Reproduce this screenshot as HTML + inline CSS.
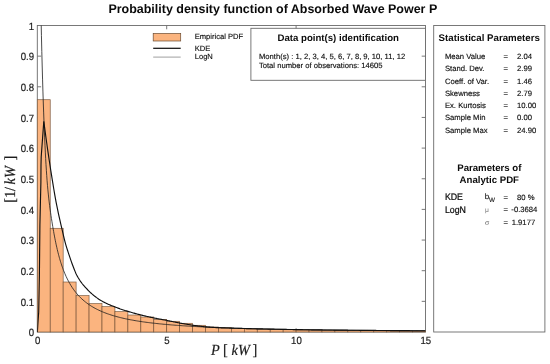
<!DOCTYPE html>
<html lang="en"><head><meta charset="utf-8"><title>Probability density function of Absorbed Wave Power P</title>
<style>html,body{margin:0;padding:0;background:#fff;overflow:hidden}svg text{white-space:pre}</style></head>
<body>
<svg width="550" height="364" viewBox="0 0 550 364" style="display:block" text-rendering="geometricPrecision" font-family='"Liberation Sans", Arial, Helvetica, sans-serif'>
<rect x="0" y="0" width="550" height="364" fill="#ffffff"/>
<g stroke="#6a6a6a" stroke-width="0.9" fill="none">
<line x1="37.3" y1="301.35" x2="41.099999999999994" y2="301.35"/>
<line x1="37.3" y1="270.70" x2="41.099999999999994" y2="270.70"/>
<line x1="37.3" y1="240.05" x2="41.099999999999994" y2="240.05"/>
<line x1="37.3" y1="209.40" x2="41.099999999999994" y2="209.40"/>
<line x1="37.3" y1="178.75" x2="41.099999999999994" y2="178.75"/>
<line x1="37.3" y1="148.10" x2="41.099999999999994" y2="148.10"/>
<line x1="37.3" y1="117.45" x2="41.099999999999994" y2="117.45"/>
<line x1="37.3" y1="86.80" x2="41.099999999999994" y2="86.80"/>
<line x1="37.3" y1="56.15" x2="41.099999999999994" y2="56.15"/>
<line x1="166.70" y1="25.5" x2="166.70" y2="29.3"/>
<line x1="166.70" y1="332.0" x2="166.70" y2="328.2"/>
<line x1="296.10" y1="25.5" x2="296.10" y2="29.3"/>
<line x1="296.10" y1="332.0" x2="296.10" y2="328.2"/>
</g>
<rect x="37.3" y="25.5" width="388.2" height="306.5" stroke="#6a6a6a" stroke-width="0.9" fill="none"/>
<g fill="#fbb47f" stroke="#6b4a30" stroke-width="0.7" stroke-opacity="0.85">
<rect x="37.30" y="99.70" width="12.94" height="232.30"/>
<rect x="50.24" y="228.30" width="12.94" height="103.70"/>
<rect x="63.18" y="282.00" width="12.94" height="50.00"/>
<rect x="76.12" y="295.60" width="12.94" height="36.40"/>
<rect x="89.06" y="303.60" width="12.94" height="28.40"/>
<rect x="102.00" y="306.60" width="12.94" height="25.40"/>
<rect x="114.94" y="311.60" width="12.94" height="20.40"/>
<rect x="127.88" y="315.00" width="12.94" height="17.00"/>
<rect x="140.82" y="317.00" width="12.94" height="15.00"/>
<rect x="153.76" y="319.40" width="12.94" height="12.60"/>
<rect x="166.70" y="321.30" width="12.94" height="10.70"/>
<rect x="179.64" y="323.30" width="12.94" height="8.70"/>
<rect x="192.58" y="325.30" width="12.94" height="6.70"/>
<rect x="205.52" y="327.00" width="12.94" height="5.00"/>
<rect x="218.46" y="327.70" width="12.94" height="4.30"/>
<rect x="231.40" y="328.53" width="12.94" height="3.47"/>
<rect x="244.34" y="328.90" width="12.94" height="3.10"/>
<rect x="257.28" y="329.21" width="12.94" height="2.79"/>
<rect x="270.22" y="329.49" width="12.94" height="2.51"/>
<rect x="283.16" y="329.73" width="12.94" height="2.27"/>
<rect x="296.10" y="329.93" width="12.94" height="2.07"/>
<rect x="309.04" y="330.12" width="12.94" height="1.88"/>
<rect x="321.98" y="330.28" width="12.94" height="1.72"/>
<rect x="334.92" y="330.43" width="12.94" height="1.57"/>
<rect x="347.86" y="330.56" width="12.94" height="1.44"/>
<rect x="360.80" y="330.67" width="12.94" height="1.33"/>
<rect x="373.74" y="330.78" width="12.94" height="1.22"/>
<rect x="386.68" y="330.87" width="12.94" height="1.13"/>
<rect x="399.62" y="330.96" width="12.94" height="1.04"/>
<rect x="412.56" y="331.04" width="12.94" height="0.96"/>
</g>
<defs><clipPath id="pc"><rect x="37.3" y="25.5" width="388.2" height="307.5"/></clipPath></defs>
<polyline clip-path="url(#pc)" points="39.88,-51.41 40.27,-25.47 40.66,-2.70 41.05,17.44 41.43,35.38 41.81,51.47 42.19,65.97 42.56,79.11 42.92,91.08 43.28,102.03 43.63,112.08 43.98,121.35 44.32,129.92 44.66,137.86 44.99,145.25 45.33,152.14 45.66,158.58 46.00,164.61 46.36,170.27 46.72,175.59 47.09,180.61 47.48,185.34 47.88,189.82 48.30,194.06 48.73,198.07 49.17,201.89 49.61,205.51 50.07,208.96 50.52,212.25 50.98,215.38 51.43,218.38 51.88,221.24 52.32,223.97 52.76,226.60 53.19,229.11 53.61,231.52 54.03,233.83 54.45,236.05 54.85,238.19 55.26,240.25 55.66,242.22 56.06,244.13 56.46,245.97 56.86,247.74 57.26,249.45 57.65,251.10 58.05,252.70 58.44,254.24 58.84,255.74 59.23,257.18 59.63,258.58 60.02,259.93 60.42,261.25 60.81,262.52 61.21,263.75 61.60,264.95 62.00,266.11 62.39,267.24 62.79,268.34 63.18,269.40 63.70,270.76 64.91,273.73 66.12,276.47 67.33,279.01 68.54,281.35 69.75,283.53 70.96,285.56 72.17,287.45 73.38,289.21 74.59,290.87 75.80,292.42 77.01,293.88 78.22,295.25 79.43,296.54 80.64,297.76 81.85,298.91 83.06,300.01 84.27,301.04 85.48,302.02 86.69,302.95 87.90,303.84 89.11,304.68 90.32,305.48 91.53,306.25 92.74,306.98 93.95,307.68 95.16,308.35 96.37,308.98 97.58,309.59 98.79,310.18 100.00,310.74 101.21,311.28 102.42,311.80 103.63,312.30 104.84,312.77 106.05,313.23 107.26,313.68 108.47,314.10 109.68,314.51 110.89,314.91 112.10,315.29 113.31,315.66 114.52,316.02 115.73,316.36 116.94,316.69 118.15,317.01 119.36,317.33 120.57,317.63 121.78,317.92 122.99,318.20 124.20,318.47 125.41,318.74 126.62,319.00 127.83,319.25 129.04,319.49 130.25,319.72 131.46,319.95 132.67,320.17 133.88,320.39 135.09,320.60 136.30,320.80 137.51,321.00 138.72,321.19 139.93,321.38 141.14,321.56 142.35,321.74 143.56,321.91 144.77,322.08 145.98,322.24 147.19,322.40 148.40,322.56 149.61,322.71 150.82,322.86 152.03,323.00 153.24,323.14 154.45,323.28 155.66,323.42 156.87,323.55 158.08,323.68 159.29,323.80 160.50,323.92 161.71,324.04 162.92,324.16 164.13,324.27 165.34,324.39 166.55,324.49 167.76,324.60 168.97,324.71 170.18,324.81 171.39,324.91 172.60,325.01 173.81,325.10 175.02,325.20 176.23,325.29 177.44,325.38 178.65,325.47 179.86,325.55 181.07,325.64 182.28,325.72 183.49,325.80 184.70,325.88 185.91,325.96 187.12,326.04 188.33,326.11 189.54,326.19 190.75,326.26 191.96,326.33 193.17,326.40 194.38,326.47 195.59,326.53 196.80,326.60 198.01,326.67 199.22,326.73 200.43,326.79 201.64,326.85 202.85,326.91 204.06,326.97 205.27,327.03 206.48,327.09 207.69,327.14 208.90,327.20 210.11,327.25 211.32,327.31 212.53,327.36 213.74,327.41 214.95,327.46 216.16,327.51 217.37,327.56 218.58,327.61 219.79,327.65 221.00,327.70 222.21,327.75 223.42,327.79 224.63,327.84 225.84,327.88 227.05,327.92 228.26,327.97 229.47,328.01 230.68,328.05 231.89,328.09 233.10,328.13 234.31,328.17 235.52,328.21 236.73,328.24 237.94,328.28 239.15,328.32 240.36,328.36 241.57,328.39 242.78,328.43 243.99,328.46 245.20,328.50 246.41,328.53 247.62,328.56 248.83,328.60 250.04,328.63 251.25,328.66 252.46,328.69 253.67,328.72 254.88,328.75 256.09,328.78 257.30,328.81 258.51,328.84 259.72,328.87 260.93,328.90 262.14,328.93 263.35,328.95 264.56,328.98 265.77,329.01 266.98,329.04 268.19,329.06 269.40,329.09 270.61,329.11 271.82,329.14 273.03,329.16 274.24,329.19 275.45,329.21 276.66,329.24 277.87,329.26 279.08,329.28 280.30,329.31 281.51,329.33 282.72,329.35 283.93,329.37 285.14,329.40 286.35,329.42 287.56,329.44 288.77,329.46 289.98,329.48 291.19,329.50 292.40,329.52 293.61,329.54 294.82,329.56 296.03,329.58 297.24,329.60 298.45,329.62 299.66,329.64 300.87,329.66 302.08,329.68 303.29,329.69 304.50,329.71 305.71,329.73 306.92,329.75 308.13,329.77 309.34,329.78 310.55,329.80 311.76,329.82 312.97,329.83 314.18,329.85 315.39,329.87 316.60,329.88 317.81,329.90 319.02,329.91 320.23,329.93 321.44,329.95 322.65,329.96 323.86,329.98 325.07,329.99 326.28,330.01 327.49,330.02 328.70,330.03 329.91,330.05 331.12,330.06 332.33,330.08 333.54,330.09 334.75,330.10 335.96,330.12 337.17,330.13 338.38,330.14 339.59,330.16 340.80,330.17 342.01,330.18 343.22,330.20 344.43,330.21 345.64,330.22 346.85,330.23 348.06,330.25 349.27,330.26 350.48,330.27 351.69,330.28 352.90,330.29 354.11,330.30 355.32,330.32 356.53,330.33 357.74,330.34 358.95,330.35 360.16,330.36 361.37,330.37 362.58,330.38 363.79,330.39 365.00,330.40 366.21,330.41 367.42,330.42 368.63,330.44 369.84,330.45 371.05,330.46 372.26,330.47 373.47,330.48 374.68,330.49 375.89,330.49 377.10,330.50 378.31,330.51 379.52,330.52 380.73,330.53 381.94,330.54 383.15,330.55 384.36,330.56 385.57,330.57 386.78,330.58 387.99,330.59 389.20,330.60 390.41,330.60 391.62,330.61 392.83,330.62 394.04,330.63 395.25,330.64 396.46,330.65 397.67,330.66 398.88,330.66 400.09,330.67 401.30,330.68 402.51,330.69 403.72,330.70 404.93,330.70 406.14,330.71 407.35,330.72 408.56,330.73 409.77,330.73 410.98,330.74 412.19,330.75 413.40,330.76 414.61,330.76 415.82,330.77 417.03,330.78 418.24,330.78 419.45,330.79 420.66,330.80 421.87,330.81 423.08,330.81 424.29,330.82 425.50,330.83" fill="none" stroke="#1c1c1c" stroke-width="0.8"/>
<polyline clip-path="url(#pc)" points="37.40,332.00 38.00,322.00 38.70,312.00 39.40,275.00 39.90,225.00 40.40,203.00 40.90,182.00 41.00,165.00 41.20,157.00 43.80,121.30 44.56,127.16 45.33,132.89 46.09,138.51 46.86,144.01 47.62,149.37 48.39,154.61 49.15,159.74 49.92,164.78 50.68,169.74 51.45,174.61 52.21,179.40 52.98,184.09 53.74,188.75 54.51,193.33 55.27,197.71 56.04,201.83 56.80,205.72 57.57,209.45 58.33,213.06 59.10,216.51 59.86,219.89 60.63,223.30 61.39,226.66 62.16,229.95 62.92,233.24 63.69,236.50 64.45,239.64 65.22,242.61 65.98,245.34 66.75,247.87 67.51,250.28 68.28,252.59 69.04,254.86 69.81,257.12 70.57,259.38 71.34,261.59 72.10,263.73 72.87,265.81 73.63,267.82 74.40,269.75 75.16,271.62 75.93,273.40 76.69,274.97 77.46,276.40 78.22,277.76 78.99,279.03 79.75,280.24 80.52,281.38 81.28,282.47 82.05,283.49 82.81,284.43 83.58,285.31 84.34,286.17 85.11,287.02 85.87,287.87 86.64,288.70 87.40,289.50 88.17,290.28 88.93,291.05 89.70,291.81 90.46,292.54 91.23,293.25 91.99,293.93 92.76,294.58 93.52,295.22 94.29,295.84 95.05,296.44 95.82,297.03 96.58,297.60 97.35,298.15 98.11,298.68 98.87,299.20 99.64,299.69 100.40,300.16 101.17,300.62 101.93,301.07 102.70,301.50 103.46,301.92 104.23,302.33 104.99,302.72 105.76,303.10 106.52,303.47 107.29,303.83 108.05,304.17 108.82,304.50 109.58,304.82 110.35,305.13 111.11,305.44 111.88,305.74 112.64,306.04 113.41,306.33 114.17,306.63 114.94,306.93 115.70,307.22 116.47,307.51 117.23,307.80 118.00,308.09 118.76,308.37 119.53,308.64 120.29,308.92 121.06,309.18 121.82,309.44 122.59,309.70 123.35,309.95 124.12,310.20 124.88,310.44 125.65,310.68 126.41,310.92 127.18,311.15 127.94,311.38 128.71,311.61 129.47,311.84 130.24,312.06 131.00,312.28 131.77,312.50 132.53,312.72 133.30,312.94 134.06,313.15 134.83,313.37 135.59,313.58 136.36,313.79 137.12,313.99 137.89,314.20 138.65,314.40 139.42,314.60 140.18,314.79 140.95,314.99 141.71,315.18 142.48,315.37 143.24,315.55 144.01,315.74 144.77,315.92 145.54,316.11 146.30,316.29 147.07,316.46 147.83,316.64 148.60,316.81 149.36,316.98 150.13,317.15 150.89,317.32 151.66,317.49 152.42,317.65 153.18,317.81 153.95,317.97 154.71,318.13 155.48,318.28 156.24,318.43 157.01,318.58 157.77,318.73 158.54,318.87 159.30,319.01 160.07,319.16 160.83,319.30 161.60,319.44 162.36,319.58 163.13,319.72 163.89,319.86 164.66,320.01 165.42,320.15 166.19,320.30 166.95,320.45 167.72,320.60 168.48,320.76 169.25,320.91 170.01,321.07 170.78,321.23 171.54,321.39 172.31,321.55 173.07,321.70 173.84,321.86 174.60,322.02 175.37,322.18 176.13,322.33 176.90,322.48 177.66,322.63 178.43,322.78 179.19,322.92 179.96,323.07 180.72,323.21 181.49,323.34 182.25,323.48 183.02,323.62 183.78,323.75 184.55,323.89 185.31,324.02 186.08,324.15 186.84,324.28 187.61,324.41 188.37,324.54 189.14,324.66 189.90,324.78 190.67,324.90 191.43,325.01 192.20,325.13 192.96,325.24 193.73,325.35 194.49,325.46 195.26,325.56 196.02,325.67 196.79,325.78 197.55,325.88 198.32,325.98 199.08,326.08 199.85,326.18 200.61,326.28 201.38,326.37 202.14,326.46 202.91,326.54 203.67,326.62 204.44,326.70 205.20,326.77 205.97,326.84 206.73,326.91 207.49,326.97 208.26,327.04 209.02,327.10 209.79,327.16 210.55,327.22 211.32,327.28 212.08,327.33 212.85,327.38 213.61,327.43 214.38,327.48 215.14,327.53 215.91,327.57 216.67,327.61 217.44,327.65 218.20,327.69 218.97,327.72 219.73,327.75 220.50,327.78 221.26,327.81 222.03,327.83 222.79,327.86 223.56,327.88 224.32,327.91 225.09,327.93 225.85,327.95 226.62,327.97 227.38,327.99 228.15,328.02 228.91,328.04 229.68,328.06 230.44,328.08 231.21,328.11 231.97,328.13 232.74,328.16 233.50,328.18 234.27,328.20 235.03,328.23 235.80,328.25 236.56,328.28 237.33,328.30 238.09,328.33 238.86,328.35 239.62,328.37 240.39,328.40 241.15,328.42 241.92,328.44 242.68,328.46 243.45,328.49 244.21,328.51 244.98,328.53 245.74,328.55 246.51,328.57 247.27,328.59 248.04,328.60 248.80,328.62 249.57,328.64 250.33,328.66 251.10,328.68 251.86,328.70 252.63,328.72 253.39,328.74 254.16,328.75 254.92,328.77 255.69,328.79 256.45,328.81 257.22,328.82 257.98,328.84 258.75,328.86 259.51,328.88 260.28,328.89 261.04,328.91 261.81,328.93 262.57,328.94 263.33,328.96 264.10,328.98 264.86,328.99 265.63,329.01 266.39,329.02 267.16,329.04 267.92,329.06 268.69,329.07 269.45,329.09 270.22,329.10 270.98,329.12 271.75,329.14 272.51,329.15 273.28,329.17 274.04,329.19 274.81,329.20 275.57,329.22 276.34,329.23 277.10,329.25 277.87,329.27 278.63,329.28 279.40,329.30 280.16,329.31 280.93,329.33 281.69,329.34 282.46,329.36 283.22,329.37 283.99,329.39 284.75,329.40 285.52,329.42 286.28,329.43 287.05,329.45 287.81,329.46 288.58,329.48 289.34,329.49 290.11,329.50 290.87,329.52 291.64,329.53 292.40,329.54 293.17,329.56 293.93,329.57 294.70,329.58 295.46,329.59 296.23,329.60 296.99,329.61 297.76,329.63 298.52,329.64 299.29,329.65 300.05,329.66 300.82,329.67 301.58,329.68 302.35,329.69 303.11,329.70 303.88,329.71 304.64,329.72 305.41,329.73 306.17,329.74 306.94,329.75 307.70,329.76 308.47,329.77 309.23,329.78 310.00,329.79 310.76,329.80 311.53,329.81 312.29,329.82 313.06,329.83 313.82,329.84 314.59,329.85 315.35,329.86 316.12,329.87 316.88,329.88 317.64,329.88 318.41,329.89 319.17,329.90 319.94,329.91 320.70,329.92 321.47,329.93 322.23,329.94 323.00,329.95 323.76,329.95 324.53,329.96 325.29,329.97 326.06,329.98 326.82,329.99 327.59,329.99 328.35,330.00 329.12,330.01 329.88,330.02 330.65,330.03 331.41,330.04 332.18,330.04 332.94,330.05 333.71,330.06 334.47,330.07 335.24,330.07 336.00,330.08 336.77,330.09 337.53,330.10 338.30,330.11 339.06,330.11 339.83,330.12 340.59,330.13 341.36,330.14 342.12,330.14 342.89,330.15 343.65,330.16 344.42,330.17 345.18,330.17 345.95,330.18 346.71,330.19 347.48,330.19 348.24,330.20 349.01,330.21 349.77,330.22 350.54,330.22 351.30,330.23 352.07,330.24 352.83,330.25 353.60,330.25 354.36,330.26 355.13,330.27 355.89,330.27 356.66,330.28 357.42,330.29 358.19,330.29 358.95,330.30 359.72,330.31 360.48,330.31 361.25,330.32 362.01,330.33 362.78,330.33 363.54,330.34 364.31,330.35 365.07,330.35 365.84,330.36 366.60,330.37 367.37,330.37 368.13,330.38 368.90,330.38 369.66,330.39 370.43,330.40 371.19,330.40 371.95,330.41 372.72,330.42 373.48,330.42 374.25,330.43 375.01,330.43 375.78,330.44 376.54,330.45 377.31,330.45 378.07,330.46 378.84,330.46 379.60,330.47 380.37,330.48 381.13,330.48 381.90,330.49 382.66,330.49 383.43,330.50 384.19,330.51 384.96,330.51 385.72,330.52 386.49,330.52 387.25,330.53 388.02,330.53 388.78,330.54 389.55,330.55 390.31,330.55 391.08,330.56 391.84,330.56 392.61,330.57 393.37,330.58 394.14,330.58 394.90,330.59 395.67,330.59 396.43,330.60 397.20,330.60 397.96,330.61 398.73,330.62 399.49,330.62 400.26,330.63 401.02,330.63 401.79,330.64 402.55,330.64 403.32,330.65 404.08,330.65 404.85,330.66 405.61,330.67 406.38,330.67 407.14,330.68 407.91,330.68 408.67,330.69 409.44,330.69 410.20,330.70 410.97,330.70 411.73,330.71 412.50,330.71 413.26,330.72 414.03,330.72 414.79,330.73 415.56,330.73 416.32,330.74 417.09,330.74 417.85,330.75 418.62,330.75 419.38,330.76 420.15,330.76 420.91,330.77 421.68,330.78 422.44,330.78 423.21,330.79 423.97,330.79 424.74,330.80 425.50,330.80" fill="none" stroke="#111111" stroke-width="1.15" stroke-linejoin="miter"/>
<rect x="250.9" y="28.3" width="174.60" height="52" fill="#ffffff" stroke="#6a6a6a" stroke-width="0.9"/>
<g stroke="#6a6a6a" stroke-width="0.9" fill="none">
<line x1="425.5" y1="301.35" x2="421.7" y2="301.35"/>
<line x1="425.5" y1="270.70" x2="421.7" y2="270.70"/>
<line x1="425.5" y1="240.05" x2="421.7" y2="240.05"/>
<line x1="425.5" y1="209.40" x2="421.7" y2="209.40"/>
<line x1="425.5" y1="178.75" x2="421.7" y2="178.75"/>
<line x1="425.5" y1="148.10" x2="421.7" y2="148.10"/>
<line x1="425.5" y1="117.45" x2="421.7" y2="117.45"/>
<line x1="425.5" y1="86.80" x2="421.7" y2="86.80"/>
<line x1="425.5" y1="56.15" x2="421.7" y2="56.15"/>
</g>
<text transform="translate(34.00,336.20) scale(1,1.1)" font-size="9.6" text-anchor="end" fill="#1a1a1a" stroke="#1a1a1a" stroke-width="0.18">0</text>
<text transform="translate(34.00,305.55) scale(1,1.1)" font-size="9.6" text-anchor="end" fill="#1a1a1a" stroke="#1a1a1a" stroke-width="0.18">0.1</text>
<text transform="translate(34.00,274.90) scale(1,1.1)" font-size="9.6" text-anchor="end" fill="#1a1a1a" stroke="#1a1a1a" stroke-width="0.18">0.2</text>
<text transform="translate(34.00,244.25) scale(1,1.1)" font-size="9.6" text-anchor="end" fill="#1a1a1a" stroke="#1a1a1a" stroke-width="0.18">0.3</text>
<text transform="translate(34.00,213.60) scale(1,1.1)" font-size="9.6" text-anchor="end" fill="#1a1a1a" stroke="#1a1a1a" stroke-width="0.18">0.4</text>
<text transform="translate(34.00,182.95) scale(1,1.1)" font-size="9.6" text-anchor="end" fill="#1a1a1a" stroke="#1a1a1a" stroke-width="0.18">0.5</text>
<text transform="translate(34.00,152.30) scale(1,1.1)" font-size="9.6" text-anchor="end" fill="#1a1a1a" stroke="#1a1a1a" stroke-width="0.18">0.6</text>
<text transform="translate(34.00,121.65) scale(1,1.1)" font-size="9.6" text-anchor="end" fill="#1a1a1a" stroke="#1a1a1a" stroke-width="0.18">0.7</text>
<text transform="translate(34.00,91.00) scale(1,1.1)" font-size="9.6" text-anchor="end" fill="#1a1a1a" stroke="#1a1a1a" stroke-width="0.18">0.8</text>
<text transform="translate(34.00,60.35) scale(1,1.1)" font-size="9.6" text-anchor="end" fill="#1a1a1a" stroke="#1a1a1a" stroke-width="0.18">0.9</text>
<text transform="translate(34.00,29.70) scale(1,1.1)" font-size="9.6" text-anchor="end" fill="#1a1a1a" stroke="#1a1a1a" stroke-width="0.18">1</text>
<text transform="translate(37.60,344.00) scale(1,1.1)" font-size="9.6" text-anchor="middle" fill="#1a1a1a" stroke="#1a1a1a" stroke-width="0.18">0</text>
<text transform="translate(167.00,344.00) scale(1,1.1)" font-size="9.6" text-anchor="middle" fill="#1a1a1a" stroke="#1a1a1a" stroke-width="0.18">5</text>
<text transform="translate(296.40,344.00) scale(1,1.1)" font-size="9.6" text-anchor="middle" fill="#1a1a1a" stroke="#1a1a1a" stroke-width="0.18">10</text>
<text transform="translate(425.80,344.00) scale(1,1.1)" font-size="9.6" text-anchor="middle" fill="#1a1a1a" stroke="#1a1a1a" stroke-width="0.18">15</text>
<text transform="translate(211.0,355.2) scale(0.93,1)" font-family='"Liberation Serif", "Times New Roman", Times, serif' font-size="15.4" fill="#1c1c1c" stroke="#1c1c1c" stroke-width="0.2"><tspan x="0" font-style="italic">P</tspan><tspan x="12.80">[</tspan><tspan x="22.15" font-style="italic">kW</tspan><tspan x="44.73">]</tspan></text>
<text transform="translate(15.4,202.7) rotate(-90) scale(0.93,1)" font-family='"Liberation Serif", "Times New Roman", Times, serif' font-size="15.4" fill="#1c1c1c" stroke="#1c1c1c" stroke-width="0.2"><tspan x="0">[</tspan><tspan x="4.95">1/</tspan><tspan x="19.68" font-style="italic">kW</tspan><tspan x="45.38">]</tspan></text>
<text transform="translate(108.40,13.30) scale(1,1.0)" font-size="12.47" font-weight="bold" fill="#0a0a0a">Probability density function of Absorbed Wave Power P</text>
<rect x="153.2" y="33.5" width="27.5" height="7.5" fill="#fbb47f" stroke="#6b4a30" stroke-width="0.7"/>
<line x1="153.2" y1="48.3" x2="180.7" y2="48.3" stroke="#111" stroke-width="1.25"/>
<line x1="153.2" y1="57.1" x2="180.7" y2="57.1" stroke="#777" stroke-width="0.7"/>
<text transform="translate(194.70,39.20) scale(1,1.0)" font-size="7.6" fill="#0c0c0c" stroke="#0c0c0c" stroke-width="0.13">Empirical PDF</text>
<text transform="translate(194.70,50.60) scale(1,1.0)" font-size="7.6" fill="#0c0c0c" stroke="#0c0c0c" stroke-width="0.13">KDE</text>
<text transform="translate(194.70,59.40) scale(1,1.0)" font-size="7.6" fill="#0c0c0c" stroke="#0c0c0c" stroke-width="0.13">LogN</text>
<text transform="translate(338.20,41.30) scale(1,1.0)" font-size="9.65" text-anchor="middle" font-weight="bold" fill="#0c0c0c">Data point(s) identification</text>
<text transform="translate(258.90,58.90) scale(1,1.0)" font-size="7.65" fill="#0c0c0c" stroke="#0c0c0c" stroke-width="0.13">Month(s) : 1, 2, 3, 4, 5, 6, 7, 8, 9, 10, 11, 12</text>
<text transform="translate(258.90,68.10) scale(1,1.0)" font-size="7.65" fill="#0c0c0c" stroke="#0c0c0c" stroke-width="0.13">Total number of observations: 14605</text>
<rect x="433.7" y="25.5" width="111.20" height="306.5" fill="#ffffff" stroke="#6a6a6a" stroke-width="0.9"/>
<text transform="translate(489.20,41.20) scale(1,1.0)" font-size="9.7" text-anchor="middle" font-weight="bold" fill="#0c0c0c">Statistical Parameters</text>
<text transform="translate(489.30,170.70) scale(1,1.0)" font-size="9.65" text-anchor="middle" font-weight="bold" fill="#0c0c0c">Parameters of</text>
<text transform="translate(489.30,182.60) scale(1,1.0)" font-size="9.65" text-anchor="middle" font-weight="bold" fill="#0c0c0c">Analytic PDF</text>
<text transform="translate(444.90,58.95) scale(1,1.0)" font-size="7.7" fill="#0c0c0c" stroke="#0c0c0c" stroke-width="0.13">Mean Value</text>
<text transform="translate(505.70,58.95) scale(1,1.0)" font-size="7.7" text-anchor="middle" fill="#0c0c0c" stroke="#0c0c0c" stroke-width="0.13">=</text>
<text transform="translate(517.00,58.95) scale(1,1.0)" font-size="7.7" fill="#0c0c0c" stroke="#0c0c0c" stroke-width="0.13">2.04</text>
<text transform="translate(444.90,71.23) scale(1,1.0)" font-size="7.7" fill="#0c0c0c" stroke="#0c0c0c" stroke-width="0.13">Stand. Dev.</text>
<text transform="translate(505.70,71.23) scale(1,1.0)" font-size="7.7" text-anchor="middle" fill="#0c0c0c" stroke="#0c0c0c" stroke-width="0.13">=</text>
<text transform="translate(517.00,71.23) scale(1,1.0)" font-size="7.7" fill="#0c0c0c" stroke="#0c0c0c" stroke-width="0.13">2.99</text>
<text transform="translate(444.90,83.51) scale(1,1.0)" font-size="7.7" fill="#0c0c0c" stroke="#0c0c0c" stroke-width="0.13">Coeff. of Var.</text>
<text transform="translate(505.70,83.51) scale(1,1.0)" font-size="7.7" text-anchor="middle" fill="#0c0c0c" stroke="#0c0c0c" stroke-width="0.13">=</text>
<text transform="translate(517.00,83.51) scale(1,1.0)" font-size="7.7" fill="#0c0c0c" stroke="#0c0c0c" stroke-width="0.13">1.46</text>
<text transform="translate(444.90,95.79) scale(1,1.0)" font-size="7.7" fill="#0c0c0c" stroke="#0c0c0c" stroke-width="0.13">Skewness</text>
<text transform="translate(505.70,95.79) scale(1,1.0)" font-size="7.7" text-anchor="middle" fill="#0c0c0c" stroke="#0c0c0c" stroke-width="0.13">=</text>
<text transform="translate(517.00,95.79) scale(1,1.0)" font-size="7.7" fill="#0c0c0c" stroke="#0c0c0c" stroke-width="0.13">2.79</text>
<text transform="translate(444.90,108.07) scale(1,1.0)" font-size="7.7" fill="#0c0c0c" stroke="#0c0c0c" stroke-width="0.13">Ex. Kurtosis</text>
<text transform="translate(505.70,108.07) scale(1,1.0)" font-size="7.7" text-anchor="middle" fill="#0c0c0c" stroke="#0c0c0c" stroke-width="0.13">=</text>
<text transform="translate(517.00,108.07) scale(1,1.0)" font-size="7.7" fill="#0c0c0c" stroke="#0c0c0c" stroke-width="0.13">10.00</text>
<text transform="translate(444.90,120.35) scale(1,1.0)" font-size="7.7" fill="#0c0c0c" stroke="#0c0c0c" stroke-width="0.13">Sample Min</text>
<text transform="translate(505.70,120.35) scale(1,1.0)" font-size="7.7" text-anchor="middle" fill="#0c0c0c" stroke="#0c0c0c" stroke-width="0.13">=</text>
<text transform="translate(517.00,120.35) scale(1,1.0)" font-size="7.7" fill="#0c0c0c" stroke="#0c0c0c" stroke-width="0.13">0.00</text>
<text transform="translate(444.90,132.63) scale(1,1.0)" font-size="7.7" fill="#0c0c0c" stroke="#0c0c0c" stroke-width="0.13">Sample Max</text>
<text transform="translate(505.70,132.63) scale(1,1.0)" font-size="7.7" text-anchor="middle" fill="#0c0c0c" stroke="#0c0c0c" stroke-width="0.13">=</text>
<text transform="translate(517.00,132.63) scale(1,1.0)" font-size="7.7" fill="#0c0c0c" stroke="#0c0c0c" stroke-width="0.13">24.90</text>
<text transform="translate(444.90,200.40) scale(1,1.08)" font-size="8.8" fill="#0c0c0c" stroke="#0c0c0c" stroke-width="0.22">KDE</text>
<text transform="translate(444.90,212.70) scale(1,1.08)" font-size="8.8" fill="#0c0c0c" stroke="#0c0c0c" stroke-width="0.22">LogN</text>
<text transform="translate(484.70,198.70) scale(1,1.0)" font-size="7.9" fill="#0c0c0c" stroke="#0c0c0c" stroke-width="0.1">b</text>
<text transform="translate(488.90,201.70) scale(1,1.0)" font-size="6.3" fill="#0c0c0c" stroke="#0c0c0c" stroke-width="0.1">W</text>
<text transform="translate(484.90,212.00) scale(1,1.0)" font-size="6.7" fill="#777">μ</text>
<text transform="translate(484.90,224.60) scale(1,1.0)" font-size="6.9" fill="#666">σ</text>
<text transform="translate(505.70,199.60) scale(1,1.0)" font-size="7.7" text-anchor="middle" fill="#0c0c0c" stroke="#0c0c0c" stroke-width="0.13">=</text>
<text transform="translate(534.50,199.60) scale(1,1.0)" font-size="7.7" text-anchor="end" fill="#0c0c0c" stroke="#0c0c0c" stroke-width="0.13">80 %</text>
<text transform="translate(505.70,212.30) scale(1,1.0)" font-size="7.7" text-anchor="middle" fill="#0c0c0c" stroke="#0c0c0c" stroke-width="0.13">=</text>
<text transform="translate(537.40,212.30) scale(1,1.0)" font-size="7.7" text-anchor="end" fill="#0c0c0c" stroke="#0c0c0c" stroke-width="0.13">-0.3684</text>
<text transform="translate(505.70,225.10) scale(1,1.0)" font-size="7.7" text-anchor="middle" fill="#0c0c0c" stroke="#0c0c0c" stroke-width="0.13">=</text>
<text transform="translate(535.20,225.10) scale(1,1.0)" font-size="7.7" text-anchor="end" fill="#0c0c0c" stroke="#0c0c0c" stroke-width="0.13">1.9177</text>
</svg>
</body></html>
